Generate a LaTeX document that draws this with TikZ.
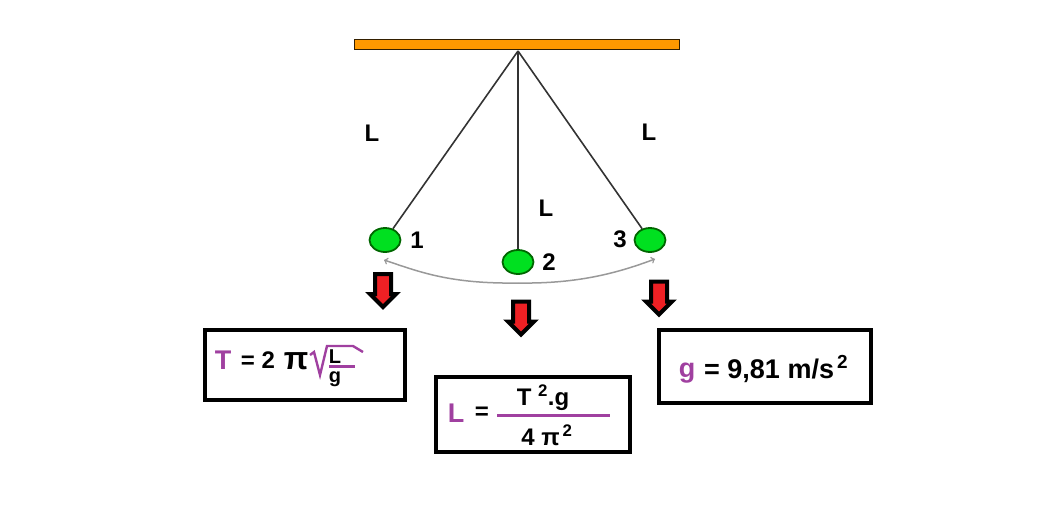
\documentclass[tikz,border=0pt]{standalone}
\usepackage{fontspec}
\setmainfont{Liberation Sans}
\usepackage{tikz}
\usetikzlibrary{arrows,shapes}
\definecolor{barorange}{HTML}{FF9900}
\definecolor{ballgreen}{HTML}{00E020}
\definecolor{formulapurple}{HTML}{A040A0}
\definecolor{arrowred}{HTML}{EE2024}
\tikzset{
  txt/.style={inner sep=0pt,font=\bfseries\fontsize{24}{26}\selectfont},
  small/.style={inner sep=0pt,font=\bfseries\fontsize{20}{20}\selectfont},
  purple/.style={text=formulapurple,font=\bfseries\fontsize{27}{27}\selectfont},
  ball/.style={ellipse,draw=black!60!green,fill=ballgreen,line width=1.8pt,minimum width=31pt,minimum height=24pt,inner sep=0pt},
  formula/.style={draw=black,line width=4pt,inner sep=0pt,fill=white},
  redarrow/.style={single arrow,draw=black,fill=arrowred,line width=4pt,shape border rotate=270,minimum width=24pt,minimum height=33pt,single arrow head extend=5pt,single arrow head indent=0pt,inner sep=6pt},
  fracline/.style={draw=formulapurple,line width=3pt}
}
\begin{document}
\begin{tikzpicture}[x=1pt,y=-1pt]
  \useasboundingbox (0,0) rectangle (1053,512);

  \node[draw=black!80!barorange,fill=barorange,line width=1.6pt,minimum width=325pt,minimum height=10pt,inner sep=0pt] (bar) at (517,44.5) {};
  \coordinate (pivot) at (518,51);

  \node[ball] (b1) at (385,240) {};
  \node[ball] (b2) at (518,262) {};
  \node[ball] (b3) at (650,240) {};

  \draw[black!80,line width=1.6pt] (pivot) -- (b1);
  \draw[black!80,line width=1.6pt] (pivot) -- (b2);
  \draw[black!80,line width=1.6pt] (pivot) -- (b3);

  \node[txt] (l1) at (372,133) {L};
  \node[txt] (l2) at (546,208) {L};
  \node[txt] (l3) at (649,132) {L};
  \node[txt] (n1) at (417,240) {1};
  \node[txt] (n2) at (549,262) {2};
  \node[txt] (n3) at (620,239) {3};

  % swing
  \coordinate (sw1) at (384,260);
  \coordinate (sw2) at (655,259);
  \coordinate (swm) at (518,283);
  \draw[->,black!40,line width=1.5pt] (swm) .. controls (450,284) and (420,272) .. (sw1);
  \draw[->,black!40,line width=1.5pt] (swm) .. controls (580,284) and (620,272) .. (sw2);

  \node[redarrow] (a1) at (383,286.5) {};
  \node[redarrow] (a2) at (521,314) {};
  \node[redarrow] (a3) at (659,294) {};

  % box 1
  \node[formula,minimum width=200pt,minimum height=70pt] (box1) at (305,365) {};
  \node[txt,purple] (t1) at (223,360) {T};
  \node[txt] (eq1) at (258,360) {= 2};
  \node[txt,font=\bfseries\fontsize{32}{32}\selectfont] (pi1) at (296,361) {π};
  \draw[draw=formulapurple,line width=2.4pt] (310,355) -- (314,352) -- (320,375) -- (327,346) -- (353,346) -- (363,352);
  \node[small] (fl) at (335,357) {L};
  \node[small] (fg) at (335,379) {g};
  \draw[fracline] (329,366.5) -- (355,366.5);

  % box 2
  \node[formula,minimum width=194pt,minimum height=75pt] (box2) at (533,414.5) {};
  \node[txt,purple] (t2) at (456,413) {L};
  \node[txt] (eq2) at (482,413) {=};
  \node[txt] (num) at (543,398) {T \textsuperscript{2}.g};
  \draw[fracline] (497,415) -- (610,415);
  \node[txt] (den) at (547,435) {4 π\textsuperscript{\,2}};

  % box 3
  \node[formula,minimum width=212pt,minimum height=73pt] (box3) at (765,366.5) {};
  \node[txt,purple] (t3) at (687,373) {g};
  \node[txt,anchor=base west,font=\bfseries\fontsize{27}{27}\selectfont] (val) at (704,378) {= 9,81 m/s\textsuperscript{\,2}};
\end{tikzpicture}
\end{document}
